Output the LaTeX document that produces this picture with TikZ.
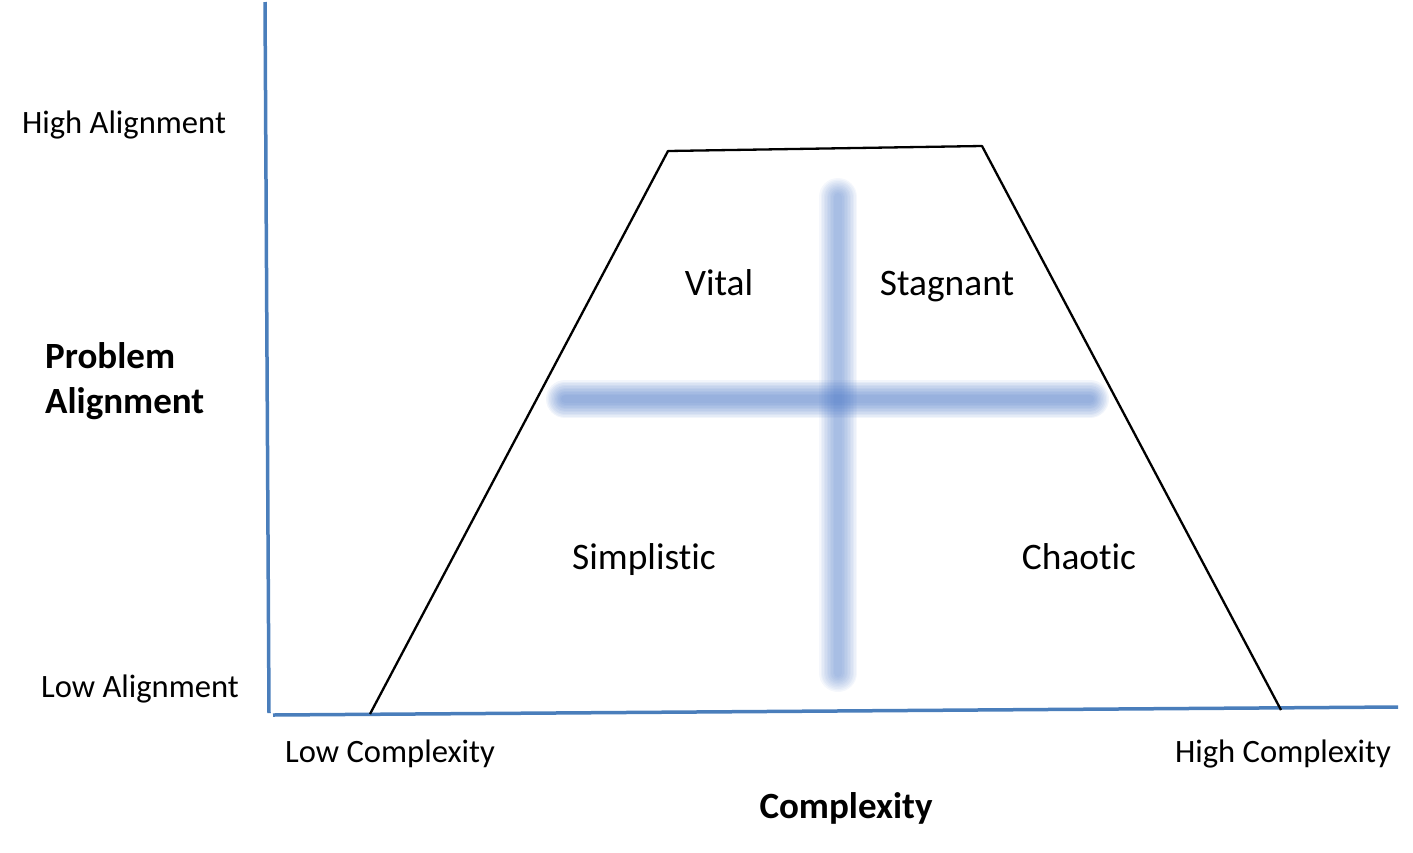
\documentclass[tikz,border=0pt]{standalone}
\usepackage{fontspec}
\setmainfont{Carlito}[Ligatures={NoCommon,NoContextual},Contextuals=NoAlternate]
\usepackage{xcolor}
\definecolor{trucxanh}{HTML}{4A7EBB}
\definecolor{moxanh}{HTML}{4472C4}
\def\mautruc{trucxanh}
\def\maumo{moxanh}
\usepackage{tikz}
\usetikzlibrary{calc}

\begin{document}
\begin{tikzpicture}[x=1pt,y=-1pt,
	nhan/.style={anchor=base,inner sep=0pt,font=\fontsize{32.6}{36}\selectfont},
	nhanto/.style={anchor=base,inner sep=0pt,font=\fontsize{37.4}{42}\selectfont},
	nhandam/.style={anchor=base west,inner sep=0pt,font=\fontsize{37}{45}\selectfont\bfseries}]
		\useasboundingbox (0,0) rectangle (1413,852);
		\path (265,2) coordinate (Ytop)
		(269,713) coordinate (Ybot)
		(273,715) coordinate (Xleft)
		(1398,707) coordinate (Xright)
		(370,714) coordinate (A)
		(668,151) coordinate (B)
		(982,146) coordinate (C)
		(1281,710) coordinate (D)
		(565,399) coordinate (Hl)
		(1090,399) coordinate (Hr)
		(838,197) coordinate (Vt)
		(838,673) coordinate (Vb);
		% blurred cross
		\foreach \w in {38,35,...,8}{
			\draw[\maumo,line width=\w pt,line cap=round,opacity=.07] (Hl) -- (Hr);
			\draw[\maumo,line width=\w pt,line cap=round,opacity=.055] (Vt) -- (Vb);
		}
		% axes
		\draw[\mautruc,line width=3.5pt] (Ytop) -- (Ybot);
		\draw[\mautruc,line width=3.5pt] (Xleft) -- (Xright);
		\draw[black,line width=2.3pt,line join=round] (A) -- (B) -- (C) -- (D);
		% labels
		\path (124,133) node[nhan] (hialign) {High Alignment}
		(140,697) node[nhan] (loalign) {Low Alignment}
		(390,762) node[nhan] (locomp) {Low Complexity}
		(1283,762) node[nhan] (hicomp) {High Complexity}
		(719,295) node[nhanto] (vital) {Vital}
		(947,295) node[nhanto] (stag) {Stagnant}
		(644,569) node[nhanto] (simp) {Simplistic}
		(1079,569) node[nhanto] (chaos) {Chaotic}
		(45,368) node[nhandam] (prob) {Problem}
		(45,413) node[nhandam] (align) {Alignment}
		(846,818) node[nhandam,anchor=base] (comp) {Complexity};
	\end{tikzpicture}
\end{document}
